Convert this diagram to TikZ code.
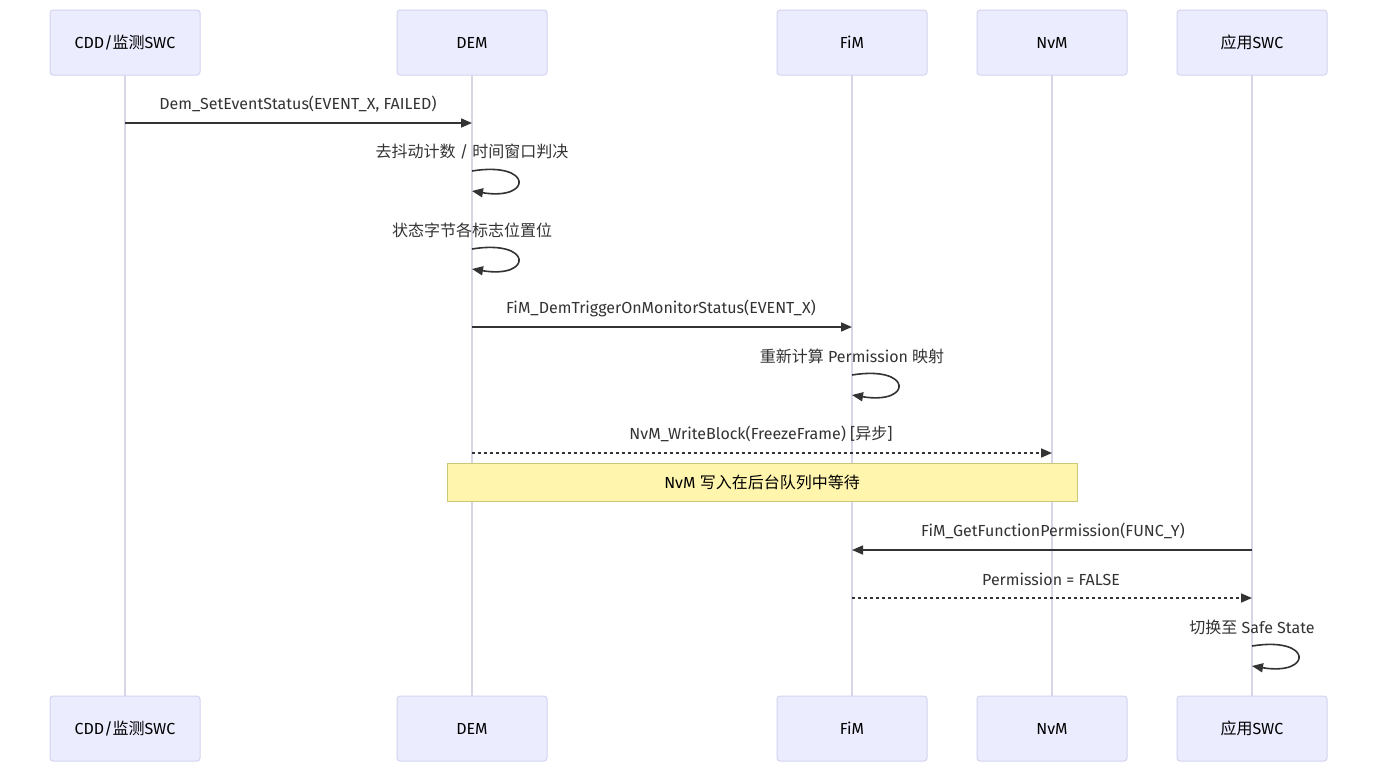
\documentclass[tikz,border=0pt]{standalone}
\usepackage{fontspec}
\setmainfont{Fira Sans}
\newfontfamily\cjk{Noto Sans CJK SC}
\usetikzlibrary{arrows.meta}
\definecolor{actfill}{HTML}{ECECFF}
\definecolor{actline}{HTML}{D4D4F0}
\definecolor{life}{HTML}{D6D6E6}
\definecolor{msg}{HTML}{333333}
\definecolor{notefill}{HTML}{FFF5AD}
\definecolor{noteline}{HTML}{C8C878}
\tikzset{
  x=1pt, y=-1pt,
  actor/.style={draw=actline, fill=actfill, line width=1pt, rounded corners=3pt, minimum width=150pt, minimum height=65pt, inner sep=0pt, font=\fontsize{16}{19}\selectfont, text=black},
  lifeline/.style={draw=life, line width=1.5pt},
  msgline/.style={draw=msg, line width=1.6pt, -{Triangle[length=11pt,width=9pt]}},
  dashmsg/.style={msgline, dash pattern=on 3pt off 3pt},
  lbl/.style={font=\fontsize{16}{19}\selectfont, text=msg, inner sep=0pt, anchor=center},
  notebox/.style={draw=noteline, fill=notefill, line width=1pt, minimum width=630pt, minimum height=38pt, inner sep=0pt, font=\fontsize{16}{19}\selectfont}
}
\begin{document}
\begin{tikzpicture}
\useasboundingbox (0,0) rectangle (1378,772);
\fill[white] (0,0) rectangle (1378,772);
% lifelines
\foreach \n/\x in {a/125,b/472,c/852,d/1052,e/1252}{
  \coordinate (\n top) at (\x,75);
  \coordinate (\n bot) at (\x,696);
  \draw[lifeline] (\n top) -- (\n bot);
}
% actors
\node[actor] (cddT) at (125,42.5) {CDD/{\cjk 监测}SWC};
\node[actor] (demT) at (472,42.5) {DEM};
\node[actor] (fimT) at (852,42.5) {FiM};
\node[actor] (nvmT) at (1052,42.5) {NvM};
\node[actor] (swcT) at (1252,42.5) {{\cjk 应用}SWC};
\node[actor] (cddB) at (125,728.5) {CDD/{\cjk 监测}SWC};
\node[actor] (demB) at (472,728.5) {DEM};
\node[actor] (fimB) at (852,728.5) {FiM};
\node[actor] (nvmB) at (1052,728.5) {NvM};
\node[actor] (swcB) at (1252,728.5) {{\cjk 应用}SWC};
% message 1
\coordinate (m1a) at (125,123); \coordinate (m1b) at (472,123);
\draw[msgline] (m1a) -- (m1b);
\node[lbl] (l1) at (298,104) {Dem\_SetEventStatus(EVENT\_X, FAILED)};
% self loop DEM 1
\coordinate (s1a) at (472,171); \coordinate (s1b) at (472,191);
\draw[msgline] (s1a) .. controls (533,161) and (533,201) .. (s1b);
\node[lbl] (l2) at (472,152) {{\cjk 去抖动计数} / {\cjk 时间窗口判决}};
% self loop DEM 2
\coordinate (s2a) at (472,249); \coordinate (s2b) at (472,269);
\draw[msgline] (s2a) .. controls (533,239) and (533,279) .. (s2b);
\node[lbl] (l3) at (472,230) {\cjk 状态字节各标志位置位};
% message 4
\coordinate (m4a) at (472,327); \coordinate (m4b) at (852,327);
\draw[msgline] (m4a) -- (m4b);
\node[lbl] (l4) at (661,308) {FiM\_DemTriggerOnMonitorStatus(EVENT\_X)};
% self loop FiM
\coordinate (s3a) at (852,375); \coordinate (s3b) at (852,395);
\draw[msgline] (s3a) .. controls (913,365) and (913,405) .. (s3b);
\node[lbl] (l5) at (852,356) {{\cjk 重新计算} Permission {\cjk 映射}};
% dashed 6
\coordinate (m6a) at (472,453); \coordinate (m6b) at (1052,453);
\draw[dashmsg] (m6a) -- (m6b);
\node[lbl] (l6) at (761,434) {NvM\_WriteBlock(FreezeFrame) [{\cjk 异步}]};
% note
\node[notebox] (note) at (762,482) {NvM {\cjk 写入在后台队列中等待}};
% message 8
\coordinate (m8a) at (1252,550); \coordinate (m8b) at (852,550);
\draw[msgline] (m8a) -- (m8b);
\node[lbl] (l8) at (1053,531) {FiM\_GetFunctionPermission(FUNC\_Y)};
% dashed 9
\coordinate (m9a) at (852,598); \coordinate (m9b) at (1252,598);
\draw[dashmsg] (m9a) -- (m9b);
\node[lbl] (l9) at (1051,579) {Permission = FALSE};
% self loop SWC
\coordinate (s4a) at (1252,646); \coordinate (s4b) at (1252,666);
\draw[msgline] (s4a) .. controls (1313,636) and (1313,676) .. (s4b);
\node[lbl] (l10) at (1252,627) {{\cjk 切换至} Safe State};
\end{tikzpicture}
\end{document}
